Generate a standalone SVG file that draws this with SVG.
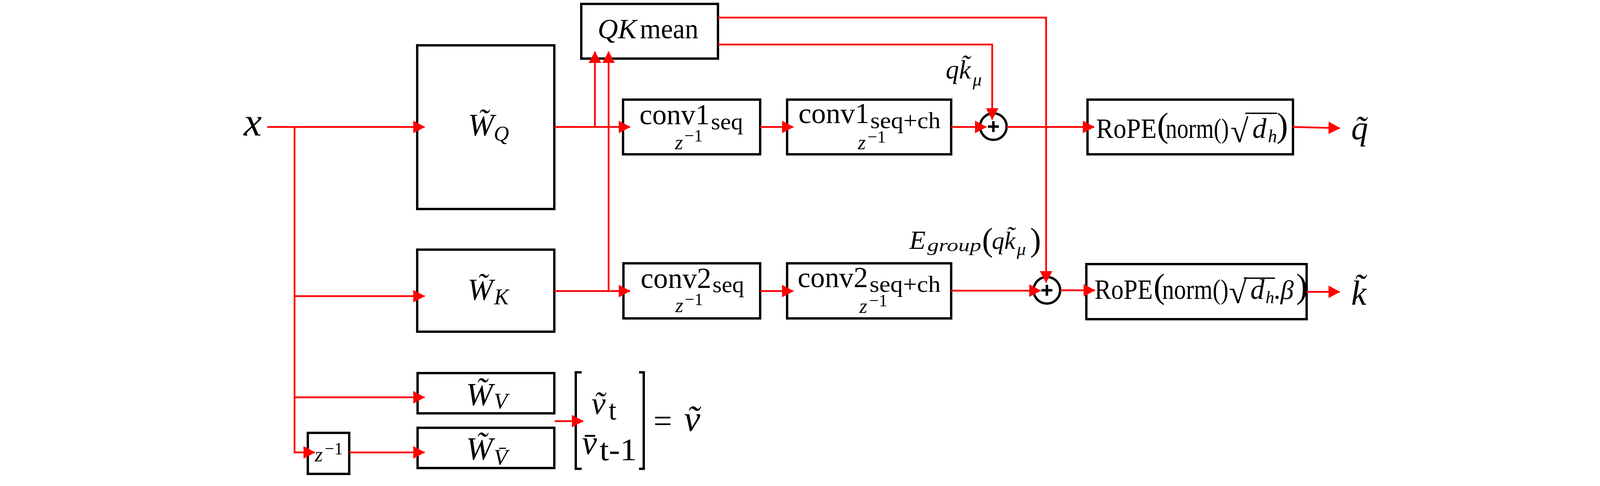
<svg xmlns="http://www.w3.org/2000/svg" width="4124" height="1244" viewBox="0 0 4124 1244">
<defs>
<style>
.box{fill:#fff;stroke:#000;stroke-width:6}
.wire{fill:none;stroke:#ff0000;stroke-width:4.5}
.blk{fill:none;stroke:#000;stroke-width:6}
text{fill:#000;font-family:"Liberation Serif","DejaVu Serif",serif}
.mi{font-style:italic}
</style>
<marker id="ah" markerUnits="userSpaceOnUse" markerWidth="30" markerHeight="32" refX="29" refY="16" orient="auto">
<path d="M0,0 L30,16 L0,32 z" fill="#ff0000"/>
</marker>
</defs>
<rect width="4124" height="1244" fill="#fff"/>

<g id="node-x"><text class="mi" x="624" y="347" font-size="104">x</text></g>

<g id="node-WQ">
<rect class="box" x="1068" y="116" width="351" height="419"/>
<text class="mi"><tspan x="1198" y="347" font-size="80">W̃</tspan><tspan x="1264" y="360" font-size="54">Q</tspan></text>
</g>

<g id="node-WK">
<rect class="box" x="1068" y="639" width="351" height="210"/>
<text class="mi"><tspan x="1197" y="767" font-size="78">W̃</tspan><tspan x="1265" y="779" font-size="56">K</tspan></text>
</g>

<g id="node-WV">
<rect class="box" x="1069" y="955" width="350" height="103"/>
<text class="mi"><tspan x="1193" y="1037" font-size="82">W̃</tspan><tspan x="1264" y="1046" font-size="58">V</tspan></text>
</g>

<g id="node-WVbar">
<rect class="box" x="1069" y="1095" width="350" height="103"/>
<text class="mi"><tspan x="1193" y="1176" font-size="82">W̃</tspan><tspan x="1264" y="1190" font-size="58">V̄</tspan></text>
</g>

<g id="node-zdelay">
<rect class="box" x="788" y="1108" width="106" height="105"/>
<text><tspan class="mi" x="806" y="1181" font-size="52">z</tspan><tspan x="831" y="1163" font-size="44">−1</tspan></text>
</g>

<g id="node-QKmean">
<rect class="box" x="1488" y="10" width="350" height="140"/>
<text font-size="72"><tspan class="mi" x="1530" y="98" textLength="100" lengthAdjust="spacingAndGlyphs">QK</tspan><tspan x="1638" y="98" textLength="150" lengthAdjust="spacingAndGlyphs">mean</tspan></text>
</g>

<g id="node-conv1seq">
<rect class="box" x="1595" y="255" width="351" height="140"/>
<text><tspan x="1637" y="318" font-size="74" textLength="180" lengthAdjust="spacingAndGlyphs">conv1</tspan><tspan x="1820" y="331" font-size="60" textLength="82" lengthAdjust="spacingAndGlyphs">seq</tspan></text>
<text><tspan class="mi" x="1728" y="382" font-size="52">z</tspan><tspan x="1752" y="362" font-size="44">−1</tspan></text>
</g>

<g id="node-conv1seqch">
<rect class="box" x="2015" y="255" width="420" height="140"/>
<text><tspan x="2044" y="315" font-size="74" textLength="182" lengthAdjust="spacingAndGlyphs">conv1</tspan><tspan x="2228" y="328" font-size="60" textLength="180" lengthAdjust="spacingAndGlyphs">seq+ch</tspan></text>
<text><tspan class="mi" x="2196" y="382" font-size="52">z</tspan><tspan x="2221" y="365" font-size="44">−1</tspan></text>
</g>

<g id="node-conv2seq">
<rect class="box" x="1596" y="674" width="350" height="141"/>
<text><tspan x="1640" y="737" font-size="74" textLength="181" lengthAdjust="spacingAndGlyphs">conv2</tspan><tspan x="1824" y="748" font-size="60" textLength="81" lengthAdjust="spacingAndGlyphs">seq</tspan></text>
<text><tspan class="mi" x="1729" y="799" font-size="52">z</tspan><tspan x="1753" y="781" font-size="44">−1</tspan></text>
</g>

<g id="node-conv2seqch">
<rect class="box" x="2015" y="674" width="420" height="141"/>
<text><tspan x="2042" y="735" font-size="74" textLength="180" lengthAdjust="spacingAndGlyphs">conv2</tspan><tspan x="2226" y="747" font-size="60" textLength="182" lengthAdjust="spacingAndGlyphs">seq+ch</tspan></text>
<text><tspan class="mi" x="2200" y="801" font-size="52">z</tspan><tspan x="2225" y="784" font-size="44">−1</tspan></text>
</g>

<g id="node-add1">
<circle class="blk" cx="2543" cy="324" r="34"/>
<path d="M2529,324 H2557 M2543,310 V338" stroke="#000" stroke-width="6.5"/>
</g>

<g id="node-add2">
<circle class="blk" cx="2680" cy="743" r="34"/>
<path d="M2666,743 H2694 M2680,729 V757" stroke="#000" stroke-width="6.5"/>
</g>

<g id="node-rope1">
<rect class="box" x="2784" y="255" width="526" height="140"/>
<text><tspan x="2806" y="353" font-size="72" textLength="155" lengthAdjust="spacingAndGlyphs">RoPE</tspan><tspan x="2962" y="350" font-size="88">(</tspan><tspan x="2984" y="353" font-size="72" textLength="162" lengthAdjust="spacingAndGlyphs">norm()</tspan><tspan x="3150" y="364" font-size="84">√</tspan><tspan class="mi" x="3206" y="353" font-size="72">d</tspan><tspan class="mi" x="3246" y="364" font-size="46">h</tspan><tspan x="3268" y="350" font-size="88">)</tspan></text>
<path d="M3188,290 H3269" stroke="#000" stroke-width="3.5"/>
</g>

<g id="node-rope2">
<rect class="box" x="2781" y="676" width="564" height="141"/>
<text><tspan x="2802" y="765" font-size="72" textLength="149" lengthAdjust="spacingAndGlyphs">RoPE</tspan><tspan x="2953" y="762" font-size="88">(</tspan><tspan x="2975" y="765" font-size="72" textLength="170" lengthAdjust="spacingAndGlyphs">norm()</tspan><tspan x="3146" y="776" font-size="84">√</tspan><tspan class="mi" x="3201" y="765" font-size="72">d</tspan><tspan class="mi" x="3240" y="776" font-size="44">h</tspan><tspan class="mi" x="3262" y="765" font-size="72">.</tspan><tspan class="mi" x="3278" y="765" font-size="68">β</tspan><tspan x="3318" y="762" font-size="88">)</tspan></text>
<path d="M3184,712 H3264" stroke="#000" stroke-width="3.5"/>
</g>

<g id="node-q-out"><text class="mi" x="3459" y="356" font-size="86">q̃</text></g>
<g id="node-k-out"><text class="mi" x="3459" y="780" font-size="88">k̃</text></g>

<g id="node-v-out">
<path class="blk" d="M1489,953 H1474 V1200 H1489 M1636,953 H1648 V1200 H1636" stroke-width="4.5"/>
<text><tspan class="mi" x="1514" y="1060" font-size="82">ṽ</tspan><tspan x="1558" y="1074" font-size="72">t</tspan></text>
<text><tspan class="mi" x="1490" y="1162" font-size="86">v̄</tspan><tspan x="1535" y="1178" font-size="80" textLength="95" lengthAdjust="spacingAndGlyphs">t-1</tspan></text>
<text x="1673" y="1106" font-size="84">=</text>
<text class="mi" x="1751" y="1103" font-size="94">ṽ</text>
</g>

<g id="label-qkmu">
<text class="mi"><tspan x="2421" y="201" font-size="68">qk̃</tspan><tspan x="2490" y="219" font-size="46">μ</tspan></text>
</g>

<g id="label-egroup">
<text class="mi"><tspan x="2328" y="637" font-size="68">E</tspan><tspan x="2374" y="643" font-size="46" textLength="138" lengthAdjust="spacingAndGlyphs">group</tspan><tspan x="2514" y="642" font-size="84" font-style="normal">(</tspan><tspan x="2539" y="637" font-size="64">qk̃</tspan><tspan x="2603" y="653" font-size="46">μ</tspan><tspan x="2637" y="642" font-size="84" font-style="normal">)</tspan></text>
</g>

<g id="connectors">
<path class="wire" d="M684,325 H1087" marker-end="url(#ah)"/>
<path class="wire" d="M754,325 V1158 H806" marker-end="url(#ah)"/>
<path class="wire" d="M754,758 H1087" marker-end="url(#ah)"/>
<path class="wire" d="M754,1017 H1087" marker-end="url(#ah)"/>
<path class="wire" d="M894,1158 H1087" marker-end="url(#ah)"/>
<path class="wire" d="M1419,325 H1613" marker-end="url(#ah)"/>
<path class="wire" d="M1523,325 V132" marker-end="url(#ah)"/>
<path class="wire" d="M1419,745 H1613" marker-end="url(#ah)"/>
<path class="wire" d="M1558,745 V132" marker-end="url(#ah)"/>
<path class="wire" d="M1946,325 H2031" marker-end="url(#ah)"/>
<path class="wire" d="M2435,325 H2525" marker-end="url(#ah)"/>
<path class="wire" d="M2577,325 H2801" marker-end="url(#ah)"/>
<path class="wire" d="M3310,325 L3430,328" marker-end="url(#ah)"/>
<path class="wire" d="M1838,45 H2678 V723" marker-end="url(#ah)"/>
<path class="wire" d="M1838,114 H2540 V306" marker-end="url(#ah)"/>
<path class="wire" d="M1946,745 H2031" marker-end="url(#ah)"/>
<path class="wire" d="M2435,744 H2664" marker-end="url(#ah)"/>
<path class="wire" d="M2714,743 H2803" marker-end="url(#ah)"/>
<path class="wire" d="M3345,747 H3430" marker-end="url(#ah)"/>
<path class="wire" d="M1420,1078 H1493" marker-end="url(#ah)"/>
</g>
</svg>
